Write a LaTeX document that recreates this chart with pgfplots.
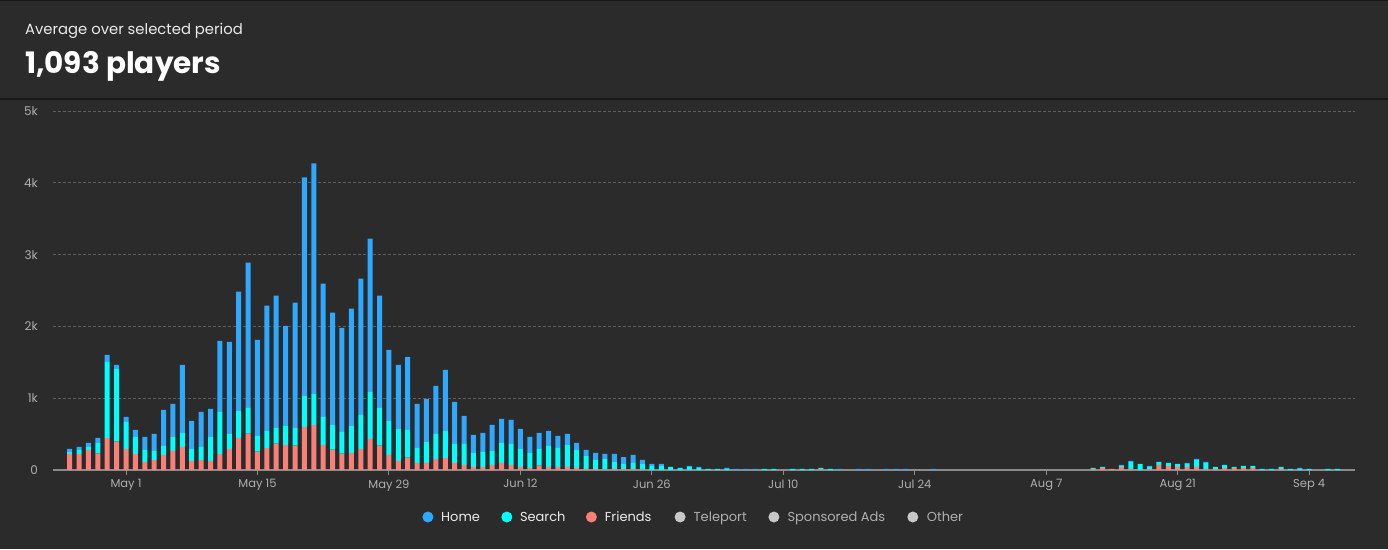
\documentclass[border=0pt]{standalone}
\usepackage{fontspec}
\setmainfont{Poppins}
\usepackage{pgfplots}
\usepackage{pgfplotstable}
\pgfplotsset{compat=1.18}
\definecolor{bg}{RGB}{43,43,43}
\definecolor{sep}{RGB}{24,24,24}
\definecolor{homec}{RGB}{45,170,255}
\definecolor{searchc}{RGB}{0,255,255}
\definecolor{friendsc}{RGB}{248,128,118}
\definecolor{othc}{RGB}{200,200,200}
\definecolor{gridc}{RGB}{95,95,95}
\definecolor{axisc}{RGB}{140,140,140}
\definecolor{labc}{RGB}{175,175,175}
\definecolor{txtc}{RGB}{235,235,235}

\pgfplotstableread{
d F S H
-6 223 28 42
-5 223 56 42
-4 279 42 56
-3 233 144 70
-2 447 1060 98
-1 395 1014 56
0 293 377 70
1 223 237 98
2 112 167 181
3 140 125 237
4 209 126 502
5 265 195 461
6 321 195 949
7 126 167 391
8 140 181 488
9 126 334 391
10 223 586 991
11 293 209 1284
12 447 376 1661
13 507 358 2023
14 256 218 1340
15 307 237 1744
16 367 219 1842
17 349 265 1395
18 340 246 1744
19 600 433 3041
20 628 432 3210
21 349 391 1855
22 284 344 1563
23 228 302 1451
24 237 377 1633
25 293 474 1898
26 433 655 2135
27 340 525 1563
28 209 475 990
29 126 446 893
30 172 386 1019
31 98 209 614
32 98 293 600
33 153 349 670
34 167 377 851
35 98 265 586
36 70 293 390
37 42 195 251
38 42 209 265
39 70 195 363
40 98 279 335
41 70 293 335
42 42 251 279
43 28 209 223
44 60 233 223
45 42 293 209
46 42 265 167
47 42 307 153
48 28 251 98
49 14 181 84
50 14 126 97
51 10 143 70
52 14 98 111
53 14 70 97
54 14 84 111
55 5 79 56
56 0 56 28
57 0 56 28
58 0 42 0
59 0 28 0
60 0 42 14
61 0 28 14
62 0 14 0
63 0 14 0
64 0 14 14
65 0 0 14
66 0 0 14
67 0 0 14
68 0 14 0
69 0 14 0
71 0 14 0
72 0 14 0
73 0 14 0
74 10 18 0
75 0 14 0
76 0 0 14
78 0 0 14
79 0 0 14
81 0 0 14
82 0 0 14
83 0 0 14
86 0 0 14
103 14 14 0
104 28 14 0
105 14 0 0
106 42 14 14
107 14 98 14
108 0 84 0
109 14 28 14
110 70 42 0
111 56 42 0
112 42 42 0
113 42 42 14
114 42 98 14
115 14 84 14
116 14 28 0
117 28 42 0
118 28 14 0
119 28 28 0
120 28 28 0
121 0 14 0
122 0 14 0
123 14 28 0
124 0 14 0
125 0 14 14
126 0 14 0
128 0 14 0
129 0 14 0
}\datatable

\begin{document}
\begin{tikzpicture}[x=1pt,y=1pt]
\useasboundingbox (0,0) rectangle (1388,549);
\fill[bg] (0,0) rectangle (1388,549);
\fill[sep] (0,547.5) rectangle (1388,549);
\fill[sep] (0,449) rectangle (1388,451);
\node[anchor=base west, inner sep=0pt, text=txtc, font=\fontsize{14.8}{17}\selectfont] at (25,514) {Average over selected period};
\node[anchor=base west, inner sep=0pt, text=white, font=\fontsize{29.5}{33}\selectfont\bfseries] at (25,475) {1,093 players};

\begin{axis}[
  at={(53pt,79pt)}, anchor=south west,
  scale only axis, width=1302pt, height=359pt,
  xmin=-7.774, xmax=130.88, ymin=0, ymax=5000,
  ybar stacked, bar width=5pt,
  axis line style={draw=none},
  tick align=outside,
  major tick length=5pt,
  xtick pos=lower, ytick pos=left,
  xtick={0,14,28,42,56,70,84,98,112,126},
  xticklabels={May 1,May 15,May 29,Jun 12,Jun 26,Jul 10,Jul 24,Aug 7,Aug 21,Sep 4},
  ytick={0,1000,2000,3000,4000,5000},
  yticklabels={0,1k,2k,3k,4k,5k},
  xtick style={draw=axisc, line width=1pt},
  ytick style={draw=none},
  ymajorgrids,
  grid style={draw=gridc, line width=0.8pt, dash pattern=on 3pt off 2pt},
  xticklabel style={text=labc, font=\fontsize{11.5}{13}\selectfont, yshift=-1pt},
  yticklabel style={text=labc, font=\fontsize{12}{14}\selectfont, anchor=east, inner sep=0pt, xshift=-10pt},
  /pgf/number format/assume math mode=true,
]
\addplot[fill=friendsc, draw=none] table[x=d,y=F]{\datatable};
\addplot[fill=searchc, draw=none] table[x=d,y=S]{\datatable};
\addplot[fill=homec, draw=none] table[x=d,y=H]{\datatable};
\draw[axisc, line width=1.5pt] (rel axis cs:0,0) -- (rel axis cs:1,0);
\end{axis}

\fill[homec] (427.9,32) circle (5.5);
\node[anchor=base west, inner sep=0pt, text=txtc, font=\fontsize{13}{15}\selectfont] at (441,27.5) {Home};
\fill[searchc] (506.8,32) circle (5.5);
\node[anchor=base west, inner sep=0pt, text=txtc, font=\fontsize{13}{15}\selectfont] at (519.8,27.5) {Search};
\fill[friendsc] (591.4,32) circle (5.5);
\node[anchor=base west, inner sep=0pt, text=txtc, font=\fontsize{13}{15}\selectfont] at (604.7,27.5) {Friends};
\fill[othc] (680.1,32) circle (5.5);
\node[anchor=base west, inner sep=0pt, text=labc, font=\fontsize{13}{15}\selectfont] at (693.5,27.5) {Teleport};
\fill[othc] (773.9,32) circle (5.5);
\node[anchor=base west, inner sep=0pt, text=labc, font=\fontsize{13}{15}\selectfont] at (787.3,27.5) {Sponsored Ads};
\fill[othc] (912.8,32) circle (5.5);
\node[anchor=base west, inner sep=0pt, text=labc, font=\fontsize{13}{15}\selectfont] at (926.6,27.5) {Other};
\end{tikzpicture}
\end{document}
